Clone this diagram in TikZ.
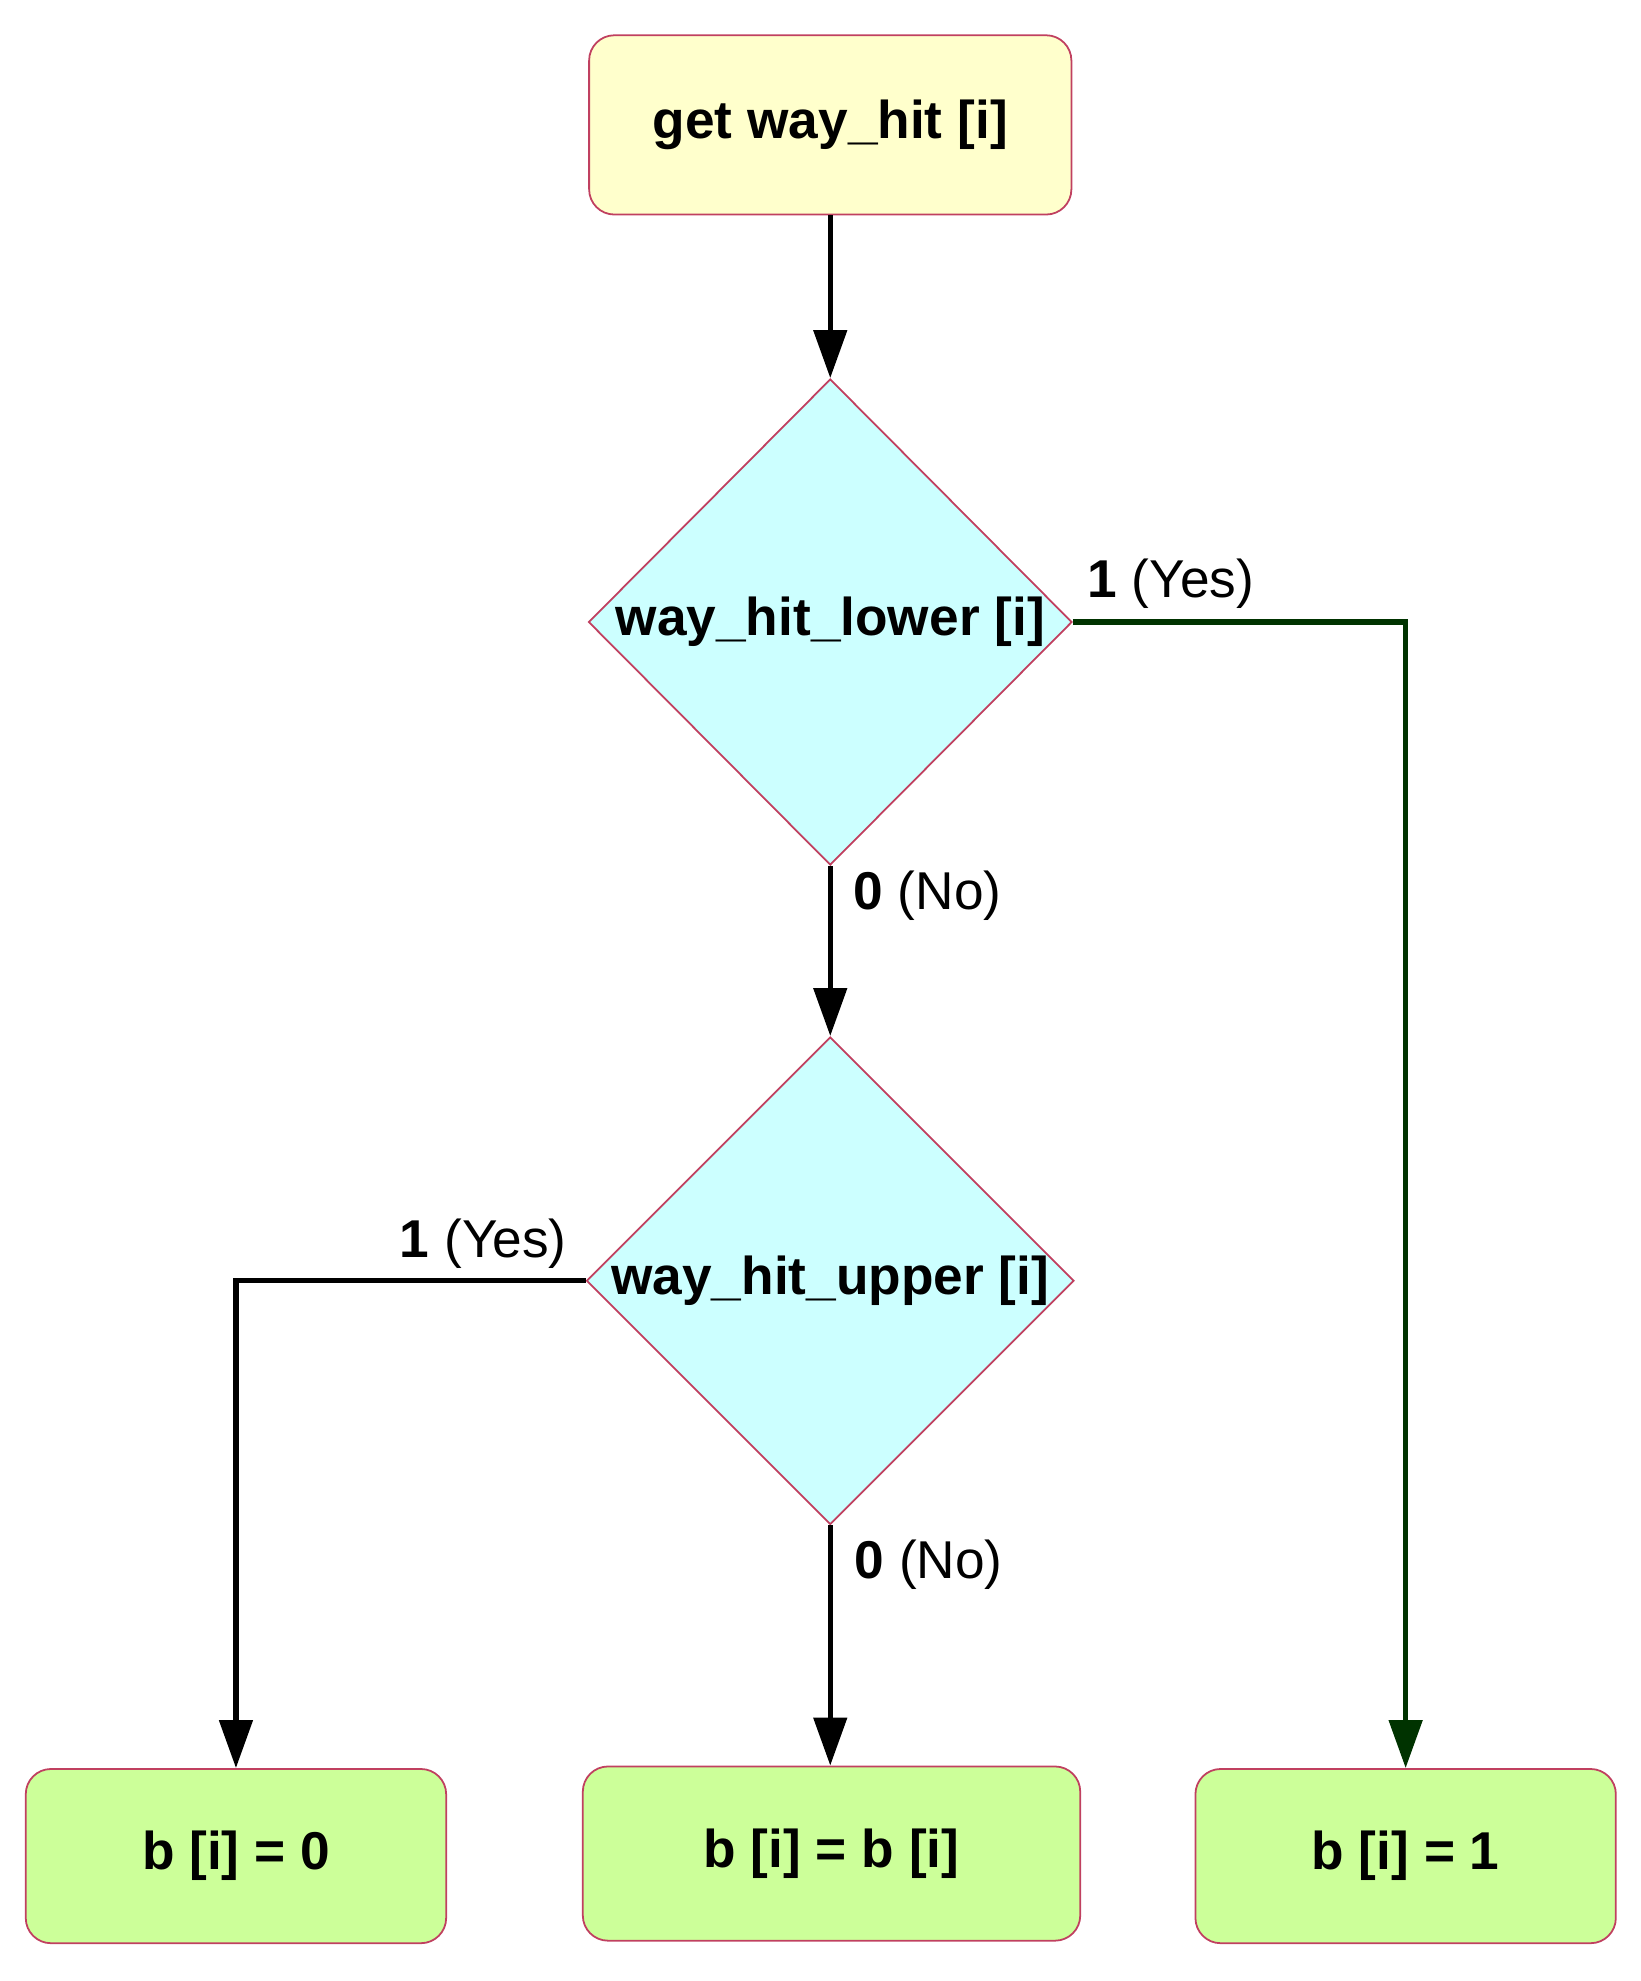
\documentclass[tikz,border=0pt]{standalone}
\usepackage{fontspec}
\setmainfont{Liberation Sans}
\usetikzlibrary{shapes.geometric, arrows.meta}
\definecolor{boxyellow}{HTML}{FFFFCC}
\definecolor{boxcyan}{HTML}{CCFFFF}
\definecolor{boxgreen}{HTML}{CCFF99}
\definecolor{edgered}{HTML}{C04060}
\definecolor{darkgreen}{HTML}{003300}
\tikzstyle{startstop} = [rectangle, rounded corners=0.2cm, minimum width=3.82cm, minimum height=1.42cm, text centered, draw=edgered, line width=0.4pt, fill=boxyellow, font=\bfseries\fontsize{12}{14}\selectfont]
\tikzstyle{decision} = [diamond, inner sep=0pt, minimum width=3.83cm, minimum height=3.85cm, text centered, draw=edgered, line width=0.4pt, fill=boxcyan, font=\bfseries\fontsize{12}{14}\selectfont]
\tikzstyle{process} = [rectangle, rounded corners=0.2cm, minimum width=3.33cm, minimum height=1.38cm, text centered, draw=edgered, line width=0.4pt, fill=boxgreen, font=\bfseries\fontsize{12}{14}\selectfont]
\tikzstyle{arrow} = [line width=1.2pt, -{Triangle[length=0.38cm,width=0.26cm]}]
\tikzstyle{lbl} = [font=\fontsize{12}{14}\selectfont]

\begin{document}
\begin{tikzpicture}[x=0.01cm, y=-0.01cm]
\useasboundingbox (0,0) rectangle (1300,1570);

\node (start) [startstop] at (658,99) {get way\_hit [i]};
\node (lower) [decision] at (658,493) {way\_hit\_lower [i]};
\node (upper) [decision] at (658,1015) {way\_hit\_upper [i]};
\node (zero) [process] at (187,1471) {b [i] = 0};
\node (keep) [process, minimum width=3.94cm] at (659,1469) {b [i] = b [i]};
\node (one) [process] at (1114,1471) {b [i] = 1};

\draw [arrow] (start) -- (lower);
\draw [arrow, darkgreen] (lower.east) -| (one);
\draw [arrow] (lower) -- (upper);
\draw [arrow] (upper.west) -| (zero);
\draw [arrow] (upper) -- (upper |- keep.north);

\node [lbl] at (928,463) {\textbf{1} (Yes)};
\node [lbl] at (735,710) {\textbf{0} (No)};
\node [lbl] at (383,986) {\textbf{1} (Yes)};
\node [lbl] at (736,1240) {\textbf{0} (No)};

\end{tikzpicture}
\end{document}
